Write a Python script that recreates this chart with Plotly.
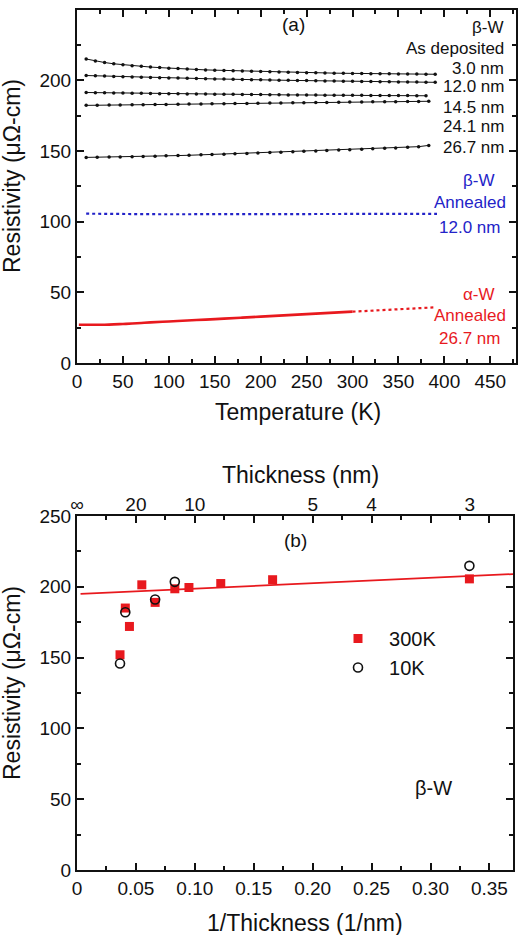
import plotly.graph_objects as go

# ---------------- Panel (a) data ----------------
T_30 = [10, 20, 30, 40, 50, 60, 70, 80, 90, 100, 110, 120, 130, 140, 150, 160, 170, 180, 190, 200,
        210, 220, 230, 240, 250, 260, 270, 280, 290, 300, 310, 320, 330, 340, 350, 360, 370, 380, 390]
rho_30 = [215.0, 213.5, 212.5, 211.6, 210.9, 210.3, 209.8, 209.3, 208.9, 208.5, 208.2, 207.9, 207.6,
          207.3, 207.1, 206.9, 206.7, 206.5, 206.3, 206.1, 205.9, 205.8, 205.6, 205.5, 205.3, 205.2,
          205.1, 205.0, 204.9, 204.8, 204.7, 204.6, 204.5, 204.5, 204.4, 204.3, 204.3, 204.2, 204.2]

T_120 = [10, 20, 30, 40, 50, 60, 70, 80, 90, 100, 110, 120, 130, 140, 150, 160, 170, 180, 190, 200,
         210, 220, 230, 240, 250, 260, 270, 280, 290, 300, 310, 320, 330, 340, 350, 360, 370, 380, 390]
rho_120 = [203.3, 203.1, 202.9, 202.7, 202.5, 202.3, 202.1, 201.9, 201.8, 201.6, 201.5, 201.3, 201.2,
           201.0, 200.9, 200.8, 200.6, 200.5, 200.4, 200.3, 200.2, 200.0, 199.9, 199.8, 199.7, 199.6,
           199.5, 199.4, 199.3, 199.2, 199.1, 199.0, 198.95, 198.9, 198.8, 198.7, 198.65, 198.6, 198.5]

T_145 = [10, 20, 30, 40, 50, 60, 70, 80, 90, 100, 110, 120, 130, 140, 150, 160, 170, 180, 190, 200,
         210, 220, 230, 240, 250, 260, 270, 280, 290, 300, 310, 320, 330, 340, 350, 360, 370, 380]
rho_145 = [191.3, 191.2, 191.1, 191.0, 190.9, 190.8, 190.7, 190.6, 190.5, 190.5, 190.4, 190.3, 190.2,
           190.2, 190.1, 190.0, 190.0, 189.9, 189.8, 189.8, 189.7, 189.7, 189.6, 189.6, 189.5, 189.5,
           189.4, 189.4, 189.3, 189.3, 189.3, 189.2, 189.2, 189.1, 189.1, 189.1, 189.0, 189.0]

T_241 = [10, 22, 35, 47, 60, 72, 85, 97, 110, 122, 135, 147, 160, 172, 185, 197, 210, 222, 235, 247,
         260, 272, 285, 297, 310, 322, 335, 347, 360, 372, 383]
rho_241 = [182.2, 182.3, 182.4, 182.5, 182.6, 182.7, 182.8, 182.9, 183.0, 183.1, 183.2, 183.3, 183.4,
           183.5, 183.6, 183.7, 183.8, 183.9, 184.0, 184.1, 184.2, 184.3, 184.4, 184.5, 184.6, 184.7,
           184.8, 184.8, 184.9, 185.0, 185.1]

T_267 = [10, 22, 35, 47, 60, 72, 85, 97, 110, 122, 135, 147, 160, 172, 185, 197, 210, 222, 235, 247,
         260, 272, 285, 297, 310, 322, 335, 347, 360, 372, 383]
rho_267 = [145.4, 145.5, 145.6, 145.7, 145.9, 146.1, 146.3, 146.5, 146.7, 146.9, 147.2, 147.4, 147.7,
           147.9, 148.2, 148.5, 148.8, 149.1, 149.4, 149.7, 150.0, 150.3, 150.6, 150.9, 151.2, 151.5,
           151.8, 152.1, 152.5, 153.0, 153.9]

T_beta_ann = [10, 30, 50, 70, 90, 110, 130, 150, 170, 190, 210, 230, 250, 270, 290, 310, 330, 350, 370, 392]
rho_beta_ann = [105.6, 105.4, 105.3, 105.2, 105.2, 105.2, 105.2, 105.2, 105.3, 105.3, 105.3, 105.3,
                105.3, 105.3, 105.3, 105.4, 105.4, 105.4, 105.4, 105.5]

T_alpha_solid = [2, 15, 30, 40, 50, 60, 70, 80, 100, 120, 140, 160, 180, 200, 220, 240, 260, 280, 300]
rho_alpha_solid = [27.0, 27.0, 27.1, 27.3, 27.6, 27.9, 28.3, 28.7, 29.4, 30.1, 30.7, 31.4, 32.1,
                   32.8, 33.5, 34.2, 34.9, 35.6, 36.3]
T_alpha_dot = [300, 310, 320, 330, 340, 350, 360, 370, 380, 388]
rho_alpha_dot = [36.3, 36.6, 36.9, 37.3, 37.6, 37.9, 38.3, 38.6, 38.9, 39.3]

# ---------------- Panel (b) data ----------------
inv_t_300K = [0.0365, 0.041, 0.0445, 0.055, 0.0663, 0.083, 0.095, 0.122, 0.166, 0.333]
rho_300K = [152, 185, 172, 201.4, 189, 198.6, 199.5, 202.3, 205, 205.6]
inv_t_10K = [0.0365, 0.041, 0.0663, 0.083, 0.333]
rho_10K = [145.8, 182, 191, 203.5, 214.8]
fit_x = [0.003, 0.37]
fit_y = [195.0, 209.0]

bottom_ticks_b = [0, 0.05, 0.10, 0.15, 0.20, 0.25, 0.30, 0.35]
bottom_labels_b = ["0", "0.05", "0.10", "0.15", "0.20", "0.25", "0.30", "0.35"]
thickness_nm = [20, 10, 5, 4, 3]
thickness_labels = ["∞", "20", "10", "5", "4", "3"]

FONT = "Liberation Sans, Arial, sans-serif"
W, H = 520, 935
BLACK = "#111111"
BLUE = "#2323c8"
RED = "#e8191e"


def px(x):
    return x / W


def py(y):
    return 1 - y / H


fig = go.Figure()

black_curves = [(T_30, rho_30), (T_120, rho_120), (T_145, rho_145), (T_241, rho_241), (T_267, rho_267)]
for T, r in black_curves:
    fig.add_trace(go.Scatter(x=T, y=r, mode="lines+markers", xaxis="x", yaxis="y",
                             line=dict(color=BLACK, width=1),
                             marker=dict(color=BLACK, size=3.5), showlegend=False))

fig.add_trace(go.Scatter(x=T_beta_ann, y=rho_beta_ann, mode="lines", xaxis="x", yaxis="y",
                         line=dict(color=BLUE, width=2.2, dash="dot"), showlegend=False))
fig.add_trace(go.Scatter(x=T_alpha_solid, y=rho_alpha_solid, mode="lines", xaxis="x", yaxis="y",
                         line=dict(color=RED, width=2.6, shape="spline"), showlegend=False))
fig.add_trace(go.Scatter(x=T_alpha_dot, y=rho_alpha_dot, mode="lines", xaxis="x", yaxis="y",
                         line=dict(color=RED, width=2.2, dash="dot"), showlegend=False))

# panel b
fig.add_trace(go.Scatter(x=fit_x, y=fit_y, mode="lines", xaxis="x2", yaxis="y2",
                         line=dict(color=RED, width=1.8), showlegend=False))
# invisible helper so the top (thickness) axis is drawn
fig.add_trace(go.Scatter(x=fit_x, y=fit_y, mode="lines", xaxis="x3", yaxis="y2",
                         line=dict(color="rgba(0,0,0,0)", width=0), showlegend=False,
                         hoverinfo="skip"))
fig.add_trace(go.Scatter(x=inv_t_300K, y=rho_300K, mode="markers", xaxis="x2", yaxis="y2",
                         name="\u00a0\u00a0300K", marker=dict(symbol="square", color=RED, size=9)))
fig.add_trace(go.Scatter(x=inv_t_10K, y=rho_10K, mode="markers", xaxis="x2", yaxis="y2",
                         name="\u00a0\u00a010K", marker=dict(symbol="circle-open", color=BLACK, size=9,
                                                             line=dict(width=1.6, color=BLACK))))

axis_common = dict(showline=True, linecolor=BLACK, linewidth=2, mirror="ticks", ticks="inside",
                   ticklen=7, tickwidth=2, tickcolor=BLACK, showgrid=False, zeroline=False,
                   tickfont=dict(family=FONT, size=19, color=BLACK))

fig.update_layout(
    width=W, height=H,
    margin=dict(l=0, r=0, t=0, b=0, autoexpand=False),
    paper_bgcolor="white", plot_bgcolor="white",
    font=dict(family=FONT, color=BLACK),
    xaxis=dict(domain=[px(77), px(516)], anchor="y", range=[0, 478], dtick=50, tick0=0,
               minor=dict(dtick=25, ticks="inside", ticklen=4, tickwidth=2, tickcolor=BLACK),
               **axis_common),
    yaxis=dict(domain=[py(363), py(9.5)], anchor="x", range=[0, 250], dtick=50, tick0=0,
               minor=dict(dtick=25, ticks="inside", ticklen=4, tickwidth=2, tickcolor=BLACK),
               **axis_common),
    xaxis2=dict(domain=[px(77), px(513)], anchor="y2", range=[0, 0.37],
                tickvals=bottom_ticks_b, ticktext=bottom_labels_b,
                minor=dict(dtick=0.025, tick0=0, ticks="inside", ticklen=4, tickwidth=2, tickcolor=BLACK),
                **axis_common),
    yaxis2=dict(domain=[py(870), py(516)], anchor="x2", range=[0, 250], dtick=50, tick0=0,
                minor=dict(dtick=25, ticks="inside", ticklen=4, tickwidth=2, tickcolor=BLACK),
                **axis_common),
    xaxis3=dict(overlaying="x2", side="top", anchor="y2", range=[0, 0.37],
                tickvals=[0] + [1 / t for t in thickness_nm], ticktext=thickness_labels,
                ticks="", showline=False, showgrid=False, zeroline=False,
                tickfont=dict(family=FONT, size=19, color=BLACK)),
    legend=dict(x=px(338), y=py(619), xanchor="left", yanchor="top",
                font=dict(family=FONT, size=20, color=BLACK), bgcolor="rgba(0,0,0,0)",
                tracegroupgap=0),
)

ann = []


def add_text(text, x, y, size=17, color=BLACK, xanchor="center", textangle=0):
    ann.append(dict(text=text, x=px(x), y=py(y), xref="paper", yref="paper", showarrow=False,
                    xanchor=xanchor, yanchor="middle", textangle=textangle,
                    font=dict(family=FONT, size=size, color=color)))


add_text("(a)", 293, 25, size=19)
rx = 506
add_text("β-W", rx, 28, xanchor="right")
add_text("As deposited", rx, 48, xanchor="right")
add_text("3.0 nm", rx, 68, xanchor="right")
add_text("12.0 nm", rx, 87, xanchor="right")
add_text("14.5 nm", rx, 107, xanchor="right")
add_text("24.1 nm", rx, 126, xanchor="right")
add_text("26.7 nm", rx, 147, xanchor="right")
add_text("β-W", 497, 180, color=BLUE, xanchor="right")
add_text("Annealed", 508, 202, color=BLUE, xanchor="right")
add_text("12.0 nm", 502, 227, color=BLUE, xanchor="right")
add_text("α-W", 497, 295, color=RED, xanchor="right")
add_text("Annealed", 508, 316, color=RED, xanchor="right")
add_text("26.7 nm", 502, 338, color=RED, xanchor="right")

add_text("Temperature (K)", 298, 412, size=23)
add_text("Resistivity (μΩ-cm)", 12, 176, size=23, textangle=-90)

add_text("(b)", 295, 540, size=19)
add_text("β-W", 433, 788, size=20)
add_text("Thickness (nm)", 300, 475, size=23)
add_text("1/Thickness (1/nm)", 305, 923, size=23)
add_text("Resistivity (μΩ-cm)", 12, 683, size=23, textangle=-90)

fig.update_layout(annotations=ann)

fig.write_html("out.html")
